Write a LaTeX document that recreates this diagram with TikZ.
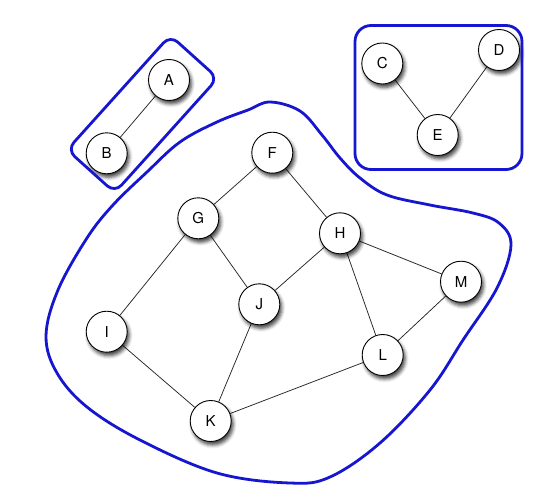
\documentclass[tikz,border=0pt]{standalone}
\usepackage{fontspec}
\setmainfont{TeX Gyre Heros}
\usetikzlibrary{shadows.blur,backgrounds}
\definecolor{hullblue}{RGB}{22,22,208}
\begin{document}
\begin{tikzpicture}[x=1pt,y=-1pt,
  vert/.style={circle, draw=black, line width=0.9pt, fill=white, minimum size=41pt, inner sep=0pt,
    font=\fontsize{15}{15}\selectfont,
    blur shadow={shadow xshift=2pt, shadow yshift=-3.5pt, shadow blur radius=3.5pt, shadow opacity=75}},
  link/.style={draw=black!85, line width=0.75pt},
  hull/.style={draw=hullblue, line width=2.8pt}]
\useasboundingbox (0,0) rectangle (557,503);

% vertices
\node[vert] (A) at (169,80) {A};
\node[vert] (B) at (106.7,153.3) {B};
\node[vert] (C) at (382.3,63.5) {C};
\node[vert] (D) at (499,50) {D};
\node[vert] (E) at (437.7,135) {E};
\node[vert] (F) at (272.3,152.7) {F};
\node[vert] (G) at (198.3,218.3) {G};
\node[vert] (H) at (340,233.3) {H};
\node[vert] (I) at (106.7,331.7) {I};
\node[vert] (J) at (259.3,304.3) {J};
\node[vert] (K) at (210.7,421) {K};
\node[vert] (L) at (382.7,355) {L};
\node[vert] (M) at (461,281.7) {M};

% edges
\begin{scope}[on background layer]
\draw[link] (A) -- (B);
\draw[link] (C) -- (E);
\draw[link] (D) -- (E);
\draw[link] (F) -- (G);
\draw[link] (F) -- (H);
\draw[link] (G) -- (J);
\draw[link] (G) -- (I);
\draw[link] (H) -- (J);
\draw[link] (H) -- (M);
\draw[link] (H) -- (L);
\draw[link] (M) -- (L);
\draw[link] (J) -- (K);
\draw[link] (I) -- (K);
\draw[link] (K) -- (L);
\end{scope}

% hulls
\node[hull, rounded corners=10pt, minimum width=154pt, minimum height=64pt, rotate=48, inner sep=0pt] (boxAB) at (142.5,114) {};
\node[hull, rounded corners=16pt, minimum width=167pt, minimum height=144pt, inner sep=0pt] (boxCDE) at (438.5,97.5) {};
\draw[hull] plot[smooth cycle, tension=0.6] coordinates {
  (270,102) (300,111) (322,135) (340,158) (360,178) (387,195) (430,205)
  (473,213) (499,223) (511,245) (497,288) (463,340) (430,390)
  (380,443) (330,477) (290,483) (217,473) (140,440) (87,407) (57,373)
  (46,336) (58,290) (87,238) (113,205) (147,172) (180,142) (217,122) (248,110)};
\end{tikzpicture}
\end{document}
